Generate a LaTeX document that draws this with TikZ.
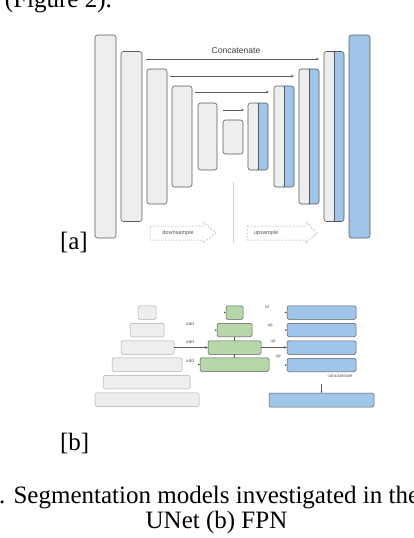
\documentclass[tikz,border=0pt]{standalone}
\usepackage{fontspec}
\setmainfont{Liberation Serif}
\setsansfont{Liberation Sans}
\usetikzlibrary{arrows.meta,calc}
\definecolor{boxgray}{HTML}{EEEEEE}
\definecolor{boxblue}{HTML}{9FC5E8}
\definecolor{boxgreen}{HTML}{B6D7A8}
\definecolor{edgecol}{HTML}{5A5A5A}
\begin{document}
\begin{tikzpicture}[x=1pt,y=-1pt,
  captext/.style={font=\fontsize{25}{28}\selectfont, inner sep=0pt, outer sep=0pt},
  ubox/.style={draw=edgecol, fill=boxgray, rounded corners=2.5pt, line width=0.6pt, inner sep=0pt, outer sep=0pt},
  dbox/.style={ubox, fill=boxblue, path picture={
      \fill[boxgray] (path picture bounding box.north west) rectangle (path picture bounding box.south);
      \draw[edgecol, line width=0.6pt] (path picture bounding box.north) -- (path picture bounding box.south);}},
  obox/.style={ubox, fill=boxblue},
  gbox/.style={draw=gray!65, fill=boxgray, rounded corners=1.5pt, line width=0.5pt, inner sep=0pt, outer sep=0pt, minimum height=13.5pt},
  nbox/.style={gbox, draw=edgecol, fill=boxgreen},
  pbox/.style={gbox, draw=edgecol, fill=boxblue},
  skiparrow/.style={draw=edgecol, line width=0.6pt, -{Stealth[length=3pt,width=2.5pt]}},
  stubarrow/.style={draw=edgecol, line width=0.5pt, -{Stealth[length=1.8pt,width=1.6pt]}},
  lbl/.style={font=\sffamily\fontsize{4.5}{5}\selectfont, text=black!65, inner sep=0pt},
  dasharrow/.style={draw=gray!70, dash pattern=on 2pt off 1.5pt, line width=0.5pt},
]
\useasboundingbox (0,0) rectangle (414,538);

% ---- text ----
\node[captext, anchor=base west] (figref) at (5,8) {(Figure 2).};
\node[captext, anchor=base west] (la) at (60,249) {[a]};
\node[captext, anchor=base west] (lb) at (60,450) {[b]};
\node[captext, anchor=base west] (c1) at (-1,503) {. Segmentation models investigated in the};
\node[captext, anchor=base] (c2) at (216.5,528) {UNet (b) FPN};

% ---- UNet encoder ----
\node[ubox, minimum width=21pt, minimum height=203pt] (e1) at (105.5,136.5) {};
\node[ubox, minimum width=21pt, minimum height=170pt] (e2) at (131.5,136.5) {};
\node[ubox, minimum width=20pt, minimum height=135pt] (e3) at (157,136.5) {};
\node[ubox, minimum width=20pt, minimum height=101pt] (e4) at (182,136.5) {};
\node[ubox, minimum width=19pt, minimum height=67pt] (e5) at (207.5,136.5) {};
\node[ubox, minimum width=20pt, minimum height=34pt] (bn) at (233,137) {};
% ---- UNet decoder ----
\node[dbox, minimum width=20pt, minimum height=67pt] (d1) at (258,136.5) {};
\node[dbox, minimum width=20pt, minimum height=101pt] (d2) at (284,136.5) {};
\node[dbox, minimum width=20pt, minimum height=135pt] (d3) at (309,136.5) {};
\node[dbox, minimum width=20pt, minimum height=170pt] (d4) at (334,136.5) {};
\node[obox, minimum width=21pt, minimum height=203pt] (out) at (359.5,136.5) {};

% skip connections
\coordinate (k1) at (146,59);
\coordinate (k2) at (170,76);
\coordinate (k3) at (195,92);
\coordinate (k4) at (223,110);
\draw[skiparrow, shorten >=5pt] (k1) -- (k1 -| d4.west);
\draw[skiparrow, shorten >=5pt] (k2) -- (k2 -| d3.west);
\draw[skiparrow, shorten >=5pt] (k3) -- (k3 -| d2.west);
\draw[skiparrow, shorten >=4pt] (k4) -- (k4 -| d1.west);
\node[font=\sffamily\fontsize{8.6}{9}\selectfont, text=black!75, inner sep=0pt] (concat) at (236,51) {Concatenate};

% divider
\draw[gray!35, line width=0.6pt] (233,182) -- (233,243);

% dashed arrows
\draw[dasharrow] (150,226) -- (203,226) -- (203,222) -- (216,233) -- (203,243) -- (203,240) -- (150,240) -- cycle;
\node[lbl, font=\sffamily\fontsize{5.6}{6}\selectfont] (downtxt) at (178,233) {downsample};
\draw[dasharrow] (247,226) -- (306,226) -- (306,222) -- (317,233) -- (306,243) -- (306,240) -- (247,240) -- cycle;
\node[lbl, font=\sffamily\fontsize{5.6}{6}\selectfont] (uptxt) at (266,233) {upsample};

% ---- FPN ----
\node[gbox, minimum width=18pt] (g1) at (147,312.5) {};
\node[gbox, minimum width=34pt] (g2) at (147,330) {};
\node[gbox, minimum width=53pt] (g3) at (147.5,347.5) {};
\node[gbox, minimum width=70pt] (g4) at (147,364.5) {};
\node[gbox, minimum width=87pt] (g5) at (146.5,382) {};
\node[gbox, minimum width=104pt] (g6) at (147,399.5) {};

\node[nbox, minimum width=17pt] (n1) at (234.5,312.5) {};
\node[nbox, minimum width=35pt] (n2) at (234.5,330) {};
\node[nbox, minimum width=53pt] (n3) at (234.5,347.5) {};
\node[nbox, minimum width=69pt] (n4) at (234.5,364.5) {};

\node[pbox, minimum width=69pt] (p1) at (321.5,312.5) {};
\node[pbox, minimum width=69pt] (p2) at (321.5,330) {};
\node[pbox, minimum width=69pt] (p3) at (321.5,347.5) {};
\node[pbox, minimum width=69pt] (p4) at (321.5,365) {};
\node[pbox, minimum width=105pt, minimum height=14pt] (fin) at (321.5,400) {};

% connections
\draw[edgecol, line width=0.5pt] (n2.south) -- (n3.north);
\draw[edgecol, line width=0.5pt] (n3.south) -- (n4.north);
\draw[skiparrow, line width=0.5pt] (g3.east) -- (n3.west);
\draw[skiparrow, line width=0.5pt] (n3.east) -- (p3.west);
\coordinate (s1) at ($(n1.west)+(-2.5,0)$);
\coordinate (s2) at ($(n2.west)+(-2.5,0)$);
\coordinate (s4) at ($(n4.west)+(-2.5,0)$);
\coordinate (t1) at ($(p1.west)+(-2.5,0)$);
\coordinate (t2) at ($(p2.west)+(-2.5,0)$);
\coordinate (t4) at ($(p4.west)+(-2.5,0)$);
\draw[stubarrow] (s1) -- (n1.west);
\draw[stubarrow] (s2) -- (n2.west);
\draw[stubarrow] (s4) -- (n4.west);
\draw[stubarrow] (t1) -- (p1.west);
\draw[stubarrow] (t2) -- (p2.west);
\draw[stubarrow] (t4) -- (p4.west);
\coordinate (fd) at ($(fin.north)+(0,-9)$);
\draw[stubarrow] (fd) -- (fin.north);

% labels
\node[lbl] (a1) at (190,324) {add};
\node[lbl] (a2) at (190,342) {add};
\node[lbl] (a3) at (190,361) {add};
\node[lbl] (u1) at (267,307) {id};
\node[lbl] (u2) at (270,326) {up};
\node[lbl] (u3) at (273,342) {up};
\node[lbl] (u4) at (278,357) {up};
\node[lbl] (cc) at (340,376) {concatenate};
\end{tikzpicture}
\end{document}
